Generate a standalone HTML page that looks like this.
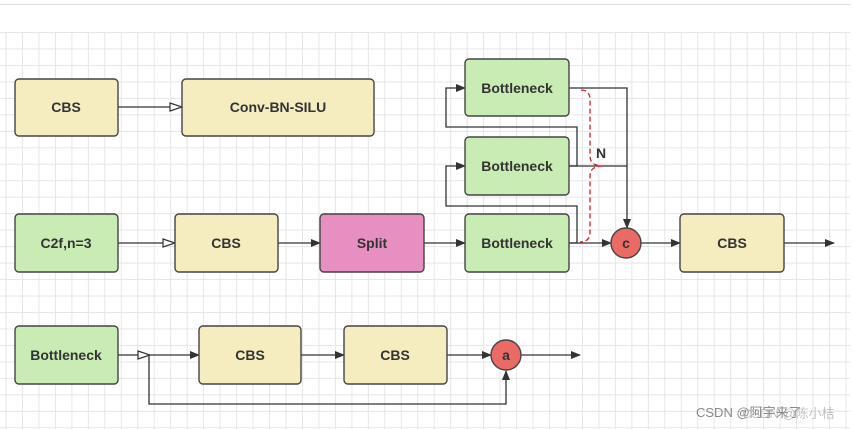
<!DOCTYPE html>
<html><head><meta charset="utf-8"><style>
html,body{margin:0;padding:0;background:#fff;}
svg{display:block;}
text{font-family:"Liberation Sans","Noto Sans CJK SC",sans-serif;font-weight:bold;font-size:14px;fill:#333;}
</style></head><body>
<svg width="854" height="429" viewBox="0 0 854 429" xmlns="http://www.w3.org/2000/svg">
<defs>
<pattern id="g" x="5.5" y="32" width="16.47" height="16.47" patternUnits="userSpaceOnUse">
<path d="M0 0.5H16.47M0.5 0V16.47" stroke="#e6e6e6" stroke-width="1" fill="none"/>
</pattern>
<marker id="f" markerWidth="10" markerHeight="8" refX="9" refY="4" orient="auto" markerUnits="userSpaceOnUse"><path d="M0 0L10 4L0 8Z" fill="#333"/></marker>
<marker id="h" markerWidth="14" markerHeight="10" refX="13" refY="5" orient="auto" markerUnits="userSpaceOnUse"><path d="M1 1L13 5L1 9Z" fill="#fff" stroke="#333" stroke-width="1.2"/></marker>
</defs>
<line x1="0" y1="4.5" x2="850" y2="4.5" stroke="#ddd"/>
<rect x="0" y="32" width="850" height="397" fill="url(#g)"/>
<g stroke="#333" stroke-width="1.3" fill="none">
<line x1="118" y1="107" x2="182" y2="107" marker-end="url(#h)"/>
<line x1="118" y1="243" x2="175" y2="243" marker-end="url(#h)"/>
<line x1="278" y1="243" x2="320" y2="243" marker-end="url(#f)"/>
<line x1="424" y1="243" x2="465" y2="243" marker-end="url(#f)"/>
<line x1="569" y1="243" x2="611" y2="243" marker-end="url(#f)"/>
<line x1="641" y1="243" x2="680" y2="243" marker-end="url(#f)"/>
<line x1="784" y1="243" x2="834" y2="243" marker-end="url(#f)"/>
<polyline points="569,88 627,88 627,228" marker-end="url(#f)"/>
<line x1="569" y1="166" x2="627" y2="166"/>
<polyline points="569,166 577,166 577,127 446,127 446,88 465,88" marker-end="url(#f)"/>
<polyline points="569,243 577,243 577,206 446,206 446,166 465,166" marker-end="url(#f)"/>
<line x1="118" y1="355" x2="150" y2="355" marker-end="url(#h)"/>
<line x1="149" y1="355" x2="199" y2="355" marker-end="url(#f)"/>
<line x1="301" y1="355" x2="344" y2="355" marker-end="url(#f)"/>
<line x1="447" y1="355" x2="491" y2="355" marker-end="url(#f)"/>
<line x1="521" y1="355" x2="580" y2="355" marker-end="url(#f)"/>
<polyline points="149,355 149,404 506,404 506,371" marker-end="url(#f)"/>
</g>
<path d="M581 90 Q590 90 590 100 V156 Q590 166 603 166 M603 166 Q590 166 590 176 V232 Q590 242 580 242" stroke="#e02020" stroke-width="1.3" stroke-dasharray="5,3" fill="none"/>
<text x="596" y="158">N</text>
<g stroke="#444" stroke-width="1.4">
<rect x="15" y="79" width="103" height="57" rx="4" fill="#f5ecc0"/>
<rect x="182" y="79" width="192" height="57" rx="4" fill="#f5ecc0"/>
<rect x="15" y="214" width="103" height="58" rx="4" fill="#c9ecb5"/>
<rect x="175" y="214" width="103" height="58" rx="4" fill="#f5ecc0"/>
<rect x="320" y="214" width="104" height="58" rx="4" fill="#e68fc0"/>
<rect x="465" y="214" width="104" height="58" rx="4" fill="#c9ecb5"/>
<rect x="465" y="59" width="104" height="57" rx="4" fill="#c9ecb5"/>
<rect x="465" y="137" width="104" height="58" rx="4" fill="#c9ecb5"/>
<rect x="680" y="214" width="104" height="58" rx="4" fill="#f5ecc0"/>
<rect x="15" y="326" width="103" height="58" rx="4" fill="#c9ecb5"/>
<rect x="199" y="326" width="102" height="58" rx="4" fill="#f5ecc0"/>
<rect x="344" y="326" width="103" height="58" rx="4" fill="#f5ecc0"/>
<circle cx="626" cy="243" r="15" fill="#ea6b66"/>
<circle cx="506" cy="355" r="15" fill="#ea6b66"/>
</g>
<g text-anchor="middle">
<text x="66" y="112">CBS</text>
<text x="278" y="112">Conv-BN-SILU</text>
<text x="66" y="248">C2f,n=3</text>
<text x="226" y="248">CBS</text>
<text x="372" y="248">Split</text>
<text x="517" y="248">Bottleneck</text>
<text x="517" y="93">Bottleneck</text>
<text x="517" y="171">Bottleneck</text>
<text x="732" y="248">CBS</text>
<text x="626" y="248" font-size="12">c</text>
<text x="66" y="360">Bottleneck</text>
<text x="250" y="360">CBS</text>
<text x="395" y="360">CBS</text>
<text x="506" y="360" font-size="12">a</text>
</g>
<text x="696" y="417" style="font-weight:normal;fill:#888;font-size:13px">CSDN @阿宇来了</text>
<text x="742" y="418" style="font-weight:normal;fill:#aaa;opacity:.7;font-size:13px">CSDN @陈小桔</text>
</svg>
</body></html>
